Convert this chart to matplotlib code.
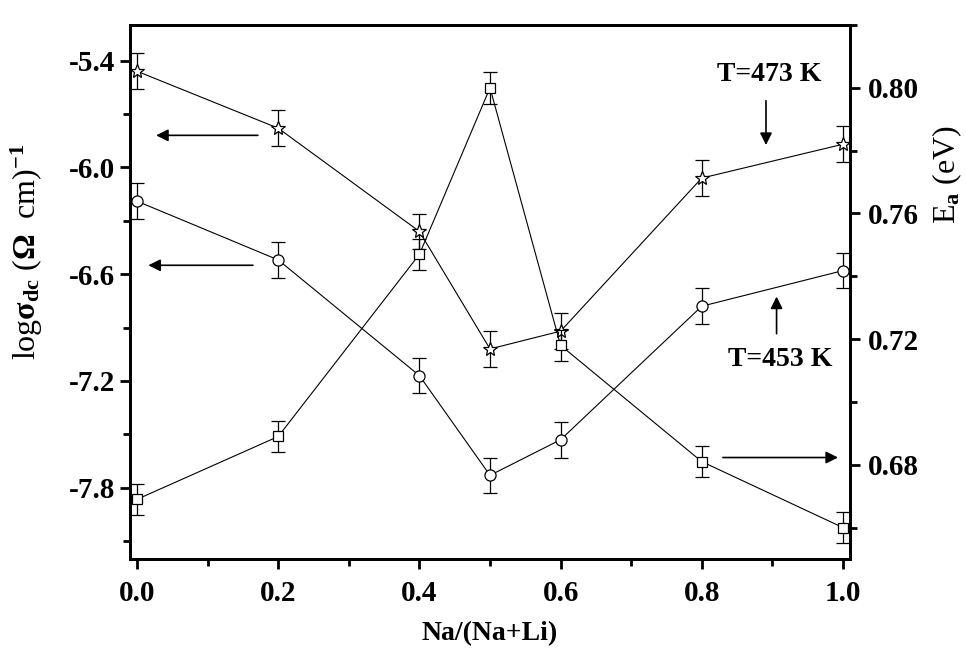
import matplotlib.pyplot as plt
from matplotlib.ticker import MultipleLocator, FormatStrFormatter

plt.rcParams['font.family'] = 'Liberation Serif'
plt.rcParams['font.weight'] = 'bold'
plt.rcParams['mathtext.fontset'] = 'custom'
plt.rcParams['mathtext.rm'] = 'Liberation Serif:bold'
plt.rcParams['mathtext.it'] = 'Liberation Serif:bold'
plt.rcParams['mathtext.bf'] = 'Liberation Serif:bold'

# data
x = [0.0, 0.2, 0.4, 0.5, 0.6, 0.8, 1.0]
log_sigma_473 = [-5.46, -5.78, -6.36, -7.02, -6.92, -6.06, -5.87]
log_sigma_453 = [-6.19, -6.52, -7.17, -7.73, -7.53, -6.78, -6.58]
ea = [0.669, 0.689, 0.747, 0.800, 0.718, 0.681, 0.660]
err_sigma = 0.1
err_ea = 0.005

fig = plt.figure(figsize=(9.66, 6.49), dpi=100)
ax = fig.add_axes([0.1346, 0.1387, 0.7453, 0.8228])
ax2 = ax.twinx()

mk = dict(color='black', lw=0.8, mfc='white', mec='black', mew=0.9,
          ecolor='black', elinewidth=0.9, capsize=5, capthick=0.9)
ax.errorbar(x, log_sigma_473, yerr=err_sigma, marker='*', ms=10, **mk)
ax.errorbar(x, log_sigma_453, yerr=err_sigma, marker='o', ms=8, **mk)
ax2.errorbar(x, ea, yerr=err_ea, marker='s', ms=7.5, **mk)
# centre dots like the original software draws
ax.plot(x, log_sigma_473, ls='none', marker='.', ms=1.5, color='black')
ax.plot(x, log_sigma_453, ls='none', marker='.', ms=1.5, color='black')
ax2.plot(x, ea, ls='none', marker='.', ms=1.5, color='black')

ax.set_xlim(-0.01, 1.01)
ax.set_ylim(-8.2, -5.2)
ax2.set_ylim(0.65, 0.82)

ax.xaxis.set_major_locator(MultipleLocator(0.2))
ax.xaxis.set_minor_locator(MultipleLocator(0.1))
ax.yaxis.set_major_locator(MultipleLocator(0.6))
ax.yaxis.set_minor_locator(MultipleLocator(0.3))
ax2.yaxis.set_major_locator(MultipleLocator(0.04))
ax2.yaxis.set_minor_locator(MultipleLocator(0.02))
ax.xaxis.set_major_formatter(FormatStrFormatter('%.1f'))
ax.yaxis.set_major_formatter(FormatStrFormatter('%.1f'))
ax2.yaxis.set_major_formatter(FormatStrFormatter('%.2f'))

for a in (ax, ax2):
    a.tick_params(which='both', direction='out', width=2, labelsize=21)
    a.tick_params(which='major', length=7)
    a.tick_params(which='minor', length=5)
    for s in a.spines.values():
        s.set_linewidth(2)
ax.tick_params(axis='x', pad=8)
ax.tick_params(top=False, right=False)
ax2.tick_params(axis='y', pad=6)

ax.set_xlabel('Na/(Na+Li)', fontsize=20, fontweight='bold', labelpad=10)
ax.set_ylabel(r'log$\sigma_{dc}$ ($\Omega$  cm)$^{-1}$', fontsize=23)
ax.yaxis.set_label_coords(-0.118, 0.575)
ax2.set_ylabel(r'E$_a$ (eV)', fontsize=23)
ax2.yaxis.set_label_coords(1.112, 0.72)

arrow = dict(arrowstyle='-|>', color='black', lw=1.2, mutation_scale=18)
ax.annotate('', xy=(0.023, -5.82), xytext=(0.175, -5.82), arrowprops=arrow)
ax.annotate('', xy=(0.012, -6.55), xytext=(0.168, -6.55), arrowprops=arrow)
ax.annotate('', xy=(0.997, -7.63), xytext=(0.826, -7.63), arrowprops=arrow)
ax.annotate('', xy=(0.891, -5.89), xytext=(0.891, -5.61), arrowprops=arrow)
ax.annotate('', xy=(0.906, -6.71), xytext=(0.906, -6.95), arrowprops=arrow)
ax.text(0.895, -5.48, 'T=473 K', fontsize=20, ha='center', va='center')
ax.text(0.911, -7.08, 'T=453 K', fontsize=20, ha='center', va='center')

fig.savefig('out.png')
